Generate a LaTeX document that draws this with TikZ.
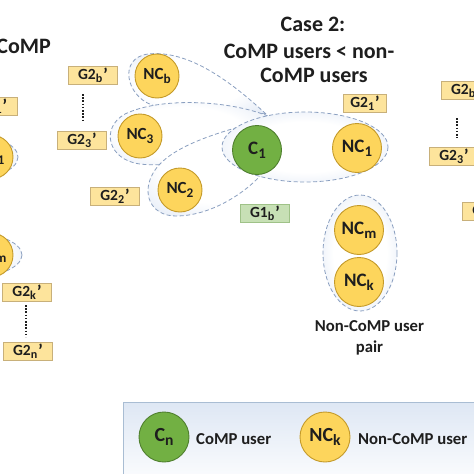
\documentclass[tikz,border=0pt]{standalone}
\usepackage{fontspec}
\usepackage{graphicx}
\setmainfont{Carlito}
\usetikzlibrary{shapes.geometric}
\definecolor{ncfill}{HTML}{FDD55C}
\definecolor{ncborder}{HTML}{C49A2A}
\definecolor{cfill}{HTML}{72B043}
\definecolor{cborder}{HTML}{4F7F2E}
\definecolor{labfill}{HTML}{FDE49C}
\definecolor{labborder}{HTML}{C8B07A}
\definecolor{glabfill}{HTML}{C7E0B5}
\definecolor{glabborder}{HTML}{9FC288}
\definecolor{blobfill}{HTML}{C3D3EC}
\definecolor{blobline}{HTML}{8A9FC0}
\definecolor{txt}{HTML}{1E1E1E}
\definecolor{legline}{HTML}{A9BDD3}
\definecolor{legfill}{HTML}{DEE7F4}
\newcommand\sbs[1]{\raisebox{-0.2em}{\scalebox{0.78}{#1}}}
\newcommand\prm{\hspace{0.8pt}\raisebox{-0.12em}{\scalebox{1.2}{’}}}
\pgfdeclareradialshading{blobshade}{\pgfpoint{0bp}{0bp}}{color(0bp)=(white); color(18bp)=(white); color(50bp)=(blobfill)}
\tikzset{
  nc/.style={circle, draw=ncborder, fill=ncfill, line width=0.9pt, minimum size=44pt, inner sep=0pt, text=txt, font=\bfseries\fontsize{17}{17}\selectfont},
  ncbig/.style={nc, minimum size=49pt, font=\bfseries\fontsize{19}{19}\selectfont},
  cc/.style={ncbig, draw=cborder, fill=cfill},
  lab/.style={draw=labborder, fill=labfill, line width=0.7pt, minimum width=49pt, minimum height=18pt, inner sep=0pt, text=txt, font=\bfseries\fontsize{15.5}{15.5}\selectfont},
  glab/.style={lab, draw=glabborder, fill=glabfill},
  blob/.style={draw=blobline, dashed, dash pattern=on 4pt off 2.5pt, line width=0.8pt, shading=blobshade},
  dotline/.style={draw=txt, line width=1.6pt, dash pattern=on 1.6pt off 1.6pt},
  ttl/.style={text=txt, font=\bfseries\fontsize{22}{22}\selectfont, inner sep=0pt},
  body/.style={text=txt, font=\bfseries\fontsize{16.7}{16.7}\selectfont, inner sep=0pt},
}
\begin{document}
\begin{tikzpicture}[x=1pt, y=-1pt]
\useasboundingbox (0,0) rectangle (474,474);
\clip (0,0) rectangle (474,474);
\fill[white] (0,0) rectangle (474,474);

% ---------- left (Case 1, cut off) ----------
\node[ttl, anchor=base east] (t0) at (51,53) {CoMP};
\draw[blob] (-40,157) ellipse [x radius=58, y radius=24];
\draw[blob] (-40,255) ellipse [x radius=62, y radius=24];
\node[nc] (lnc1) at (-9,157) {NC\sbs{1}};
\node[nc] (lncm) at (-9,255) {NC\sbs{m}};
\node[lab] (lg21) at (-7.5,106) {G2\sbs{1}\prm};
\node[lab] (lg2k) at (27,292) {G2\sbs{k}\prm};
\node[lab] (lg2n) at (28,351) {G2\sbs{n}\prm};
\coordinate (ld1) at (26,305);
\coordinate (ld2) at (26,337);
\draw[dotline] (ld1) -- (ld2);

% ---------- Case 2 ----------
\node[ttl, anchor=base] (t1) at (313,31) {Case 2:};
\node[ttl, anchor=base] (t2) at (309,58) {CoMP users < non-};
\node[ttl, anchor=base] (t3) at (314,82) {CoMP users};

% blobs
\draw[blob] (266,114) .. controls (225,76) and (185,50) .. (148,54)
  .. controls (118,58) and (126,96) .. (152,105)
  .. controls (185,116) and (235,110) .. (266,114) -- cycle;
\draw[blob] (268,116) .. controls (228,100) and (160,97) .. (125,114)
  .. controls (100,128) and (108,160) .. (140,164)
  .. controls (180,169) and (232,150) .. (262,132) -- cycle;
\draw[blob] (250,124) .. controls (212,134) and (170,148) .. (155,170)
  .. controls (140,192) and (150,216) .. (176,216)
  .. controls (208,216) and (242,196) .. (262,174)
  .. controls (285,150) and (275,120) .. (250,124) -- cycle;
\draw[blob] (305,147) ellipse [x radius=83, y radius=35];
\draw[blob] (360,253) ellipse [x radius=37, y radius=58];

\node[nc] (ncb) at (157,76) {NC\sbs{b}};
\node[nc] (nc3) at (140,136) {NC\sbs{3}};
\node[nc] (nc2) at (180,190) {NC\sbs{2}};
\node[cc] (c1) at (257,150) {C\sbs{1}};
\node[ncbig] (nc1) at (357,148) {NC\sbs{1}};
\node[ncbig] (ncm) at (359,230) {NC\sbs{m}};
\node[ncbig] (nck) at (359,282) {NC\sbs{k}};

\node[lab] (g2b) at (93,75) {G2\sbs{b}\prm};
\node[lab] (g23) at (82,140) {G2\sbs{3}\prm};
\node[lab] (g22) at (115,196) {G2\sbs{2}\prm};
\node[lab, minimum width=43pt] (g21) at (365,103) {G2\sbs{1}\prm};
\node[glab] (g1b) at (265,213) {G1\sbs{b}\prm};
\coordinate (d1) at (83,94);
\coordinate (d2) at (83,122);
\draw[dotline] (d1) -- (d2);

\node[body, anchor=base] (pair1) at (369.5,331) {Non-CoMP user};
\node[body, anchor=base] (pair2) at (369.5,352) {pair};

% ---------- right (cut off) ----------
\node[lab] (rg2b) at (466,90) {G2\sbs{b}\prm};
\node[lab] (rg23) at (454,156) {G2\sbs{3}\prm};
\node[lab] (rg2x) at (487,211) {G2\sbs{2}\prm};
\coordinate (rd1) at (457,118);
\coordinate (rd2) at (457,138);
\draw[dotline] (rd1) -- (rd2);

% ---------- legend ----------
\draw[draw=legline, line width=0.9pt, top color=legfill, bottom color=white] (123,402) rectangle (490,490);
\node[cc, minimum size=50pt, font=\bfseries\fontsize{20}{20}\selectfont] (lgc) at (164,437) {C\sbs{n}};
\node[body, anchor=base west] (lgct) at (196,444) {CoMP user};
\node[ncbig, minimum size=50pt, font=\bfseries\fontsize{20}{20}\selectfont] (lgnc) at (325,437) {NC\sbs{k}};
\node[body, anchor=base west] (lgnct) at (358,444) {Non-CoMP user};
\end{tikzpicture}
\end{document}
